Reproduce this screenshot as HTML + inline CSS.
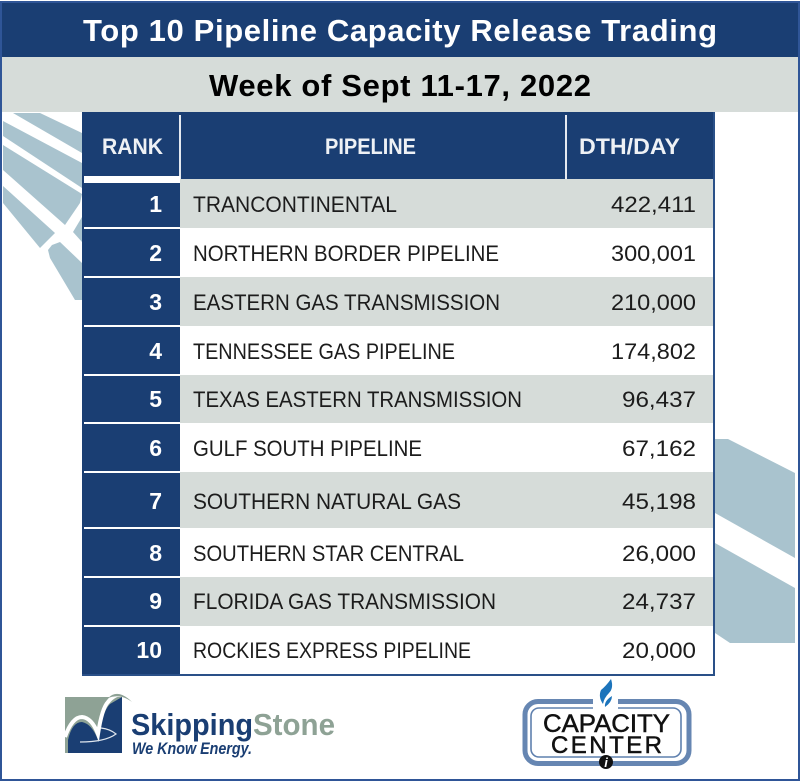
<!DOCTYPE html>
<html lang="en">
<head>
<meta charset="utf-8">
<title>Top 10 Pipeline Capacity Release Trading</title>
<style>
html,body{margin:0;padding:0;background:#fff;width:800px;height:784px;overflow:hidden}
svg{display:block}
text{font-family:"Liberation Sans",sans-serif}
.cell{font-size:22px;fill:#1c1c1c}
.rank{font-size:23px;font-weight:bold;fill:#fff}
.head{font-size:22px;font-weight:bold;fill:#eef1f5}
</style>
</head>
<body>
<svg width="800" height="784" viewBox="0 0 800 784" xmlns="http://www.w3.org/2000/svg">
<rect x="0" y="0" width="800" height="784" fill="#fff"/>

<g fill="#a9c3ce">
<polygon points="13,113 40,113 82,133 82,153"/>
<polygon points="3,121 82,163 82,188 3,136"/>
<polygon points="3,145 82,194 80,203 65,225 3,170"/>
<polygon points="3,186 55,233 40,248 3,203"/>
<polygon points="48,250 52,245 60,242 82,263 82,300 75,300 50,258"/>
<polygon points="73,232 82,217 82,242"/>
<polygon points="715,439 728,439 795,473 795,558 715,513"/>
<polygon points="715,543 795,588 795,643 730,643 715,633"/>
</g>

<rect x="2" y="3" width="796" height="54" fill="#1a3e73"/>
<text x="83" y="41" font-size="31" font-weight="bold" fill="#fff" textLength="634" lengthAdjust="spacing">Top 10 Pipeline Capacity Release Trading</text>
<rect x="2" y="57" width="796" height="55" fill="#d6dcd9"/>
<text x="209" y="96" font-size="31" font-weight="bold" fill="#000" textLength="382" lengthAdjust="spacing">Week of Sept 11-17, 2022</text>

<g>
<rect x="82" y="112" width="633" height="563" fill="#fff"/>
<rect x="82" y="112" width="633" height="67" fill="#1a3e73"/>
<rect x="179" y="115" width="2" height="64" fill="#e4e9f0"/>
<rect x="565" y="115" width="2" height="64" fill="#e4e9f0"/>
<text class="head" x="102" y="154" textLength="61" lengthAdjust="spacingAndGlyphs">RANK</text>
<text class="head" x="325" y="154" textLength="91" lengthAdjust="spacingAndGlyphs">PIPELINE</text>
<text class="head" x="579" y="154" textLength="101" lengthAdjust="spacingAndGlyphs">DTH/DAY</text>

<g>
<rect x="180" y="179" width="533" height="49" fill="#d6dcd9"/>
<rect x="84" y="176" width="96" height="7" fill="#fff"/>
<rect x="82" y="183" width="98" height="44" fill="#1a3e73"/>
<text class="rank" x="162" y="212" text-anchor="end">1</text>
<text class="cell" x="193" y="212" textLength="204" lengthAdjust="spacingAndGlyphs">TRANCONTINENTAL</text>
<text class="cell" x="611" y="212" textLength="85" lengthAdjust="spacingAndGlyphs">422,411</text>
</g>
<g>
<rect x="82" y="229" width="98" height="47" fill="#1a3e73"/>
<text class="rank" x="162" y="261" text-anchor="end">2</text>
<text class="cell" x="193" y="261" textLength="306" lengthAdjust="spacingAndGlyphs">NORTHERN BORDER PIPELINE</text>
<text class="cell" x="611" y="261" textLength="85" lengthAdjust="spacingAndGlyphs">300,001</text>
</g>
<g>
<rect x="180" y="277" width="533" height="49" fill="#d6dcd9"/>
<rect x="82" y="278" width="98" height="47" fill="#1a3e73"/>
<text class="rank" x="162" y="310" text-anchor="end">3</text>
<text class="cell" x="193" y="310" textLength="307" lengthAdjust="spacingAndGlyphs">EASTERN GAS TRANSMISSION</text>
<text class="cell" x="611" y="310" textLength="85" lengthAdjust="spacingAndGlyphs">210,000</text>
</g>
<g>
<rect x="82" y="327" width="98" height="47" fill="#1a3e73"/>
<text class="rank" x="162" y="359" text-anchor="end">4</text>
<text class="cell" x="193" y="359" textLength="262" lengthAdjust="spacingAndGlyphs">TENNESSEE GAS PIPELINE</text>
<text class="cell" x="611" y="359" textLength="85" lengthAdjust="spacingAndGlyphs">174,802</text>
</g>
<g>
<rect x="180" y="375" width="533" height="48" fill="#d6dcd9"/>
<rect x="82" y="376" width="98" height="46" fill="#1a3e73"/>
<text class="rank" x="162" y="407" text-anchor="end">5</text>
<text class="cell" x="193" y="407" textLength="329" lengthAdjust="spacingAndGlyphs">TEXAS EASTERN TRANSMISSION</text>
<text class="cell" x="622" y="407" textLength="74" lengthAdjust="spacingAndGlyphs">96,437</text>
</g>
<g>
<rect x="82" y="424" width="98" height="47" fill="#1a3e73"/>
<text class="rank" x="162" y="456" text-anchor="end">6</text>
<text class="cell" x="193" y="456" textLength="229" lengthAdjust="spacingAndGlyphs">GULF SOUTH PIPELINE</text>
<text class="cell" x="622" y="456" textLength="74" lengthAdjust="spacingAndGlyphs">67,162</text>
</g>
<g>
<rect x="180" y="472" width="533" height="56" fill="#d6dcd9"/>
<rect x="82" y="473" width="98" height="54" fill="#1a3e73"/>
<text class="rank" x="162" y="509" text-anchor="end">7</text>
<text class="cell" x="193" y="509" textLength="268" lengthAdjust="spacingAndGlyphs">SOUTHERN NATURAL GAS</text>
<text class="cell" x="622" y="509" textLength="74" lengthAdjust="spacingAndGlyphs">45,198</text>
</g>
<g>
<rect x="82" y="529" width="98" height="47" fill="#1a3e73"/>
<text class="rank" x="162" y="561" text-anchor="end">8</text>
<text class="cell" x="193" y="561" textLength="271" lengthAdjust="spacingAndGlyphs">SOUTHERN STAR CENTRAL</text>
<text class="cell" x="622" y="561" textLength="74" lengthAdjust="spacingAndGlyphs">26,000</text>
</g>
<g>
<rect x="180" y="577" width="533" height="49" fill="#d6dcd9"/>
<rect x="82" y="578" width="98" height="47" fill="#1a3e73"/>
<text class="rank" x="162" y="609" text-anchor="end">9</text>
<text class="cell" x="193" y="609" textLength="303" lengthAdjust="spacingAndGlyphs">FLORIDA GAS TRANSMISSION</text>
<text class="cell" x="622" y="609" textLength="74" lengthAdjust="spacingAndGlyphs">24,737</text>
</g>
<g>
<rect x="82" y="627" width="98" height="48" fill="#1a3e73"/>
<text class="rank" x="162" y="658" text-anchor="end">10</text>
<text class="cell" x="193" y="658" textLength="278" lengthAdjust="spacingAndGlyphs">ROCKIES EXPRESS PIPELINE</text>
<text class="cell" x="622" y="658" textLength="74" lengthAdjust="spacingAndGlyphs">20,000</text>
</g>
<rect x="82" y="112" width="2" height="563" fill="#1a3e73"/>
<rect x="713" y="112" width="2" height="563" fill="#2a5088"/>
<rect x="82" y="674" width="633" height="2" fill="#2a5088"/>
</g>

<g>
<rect x="65" y="697" width="57" height="56" fill="#8ea295"/>
<path d="M68 753 L68 740 Q72 722 82 722 Q92 724 98 740 Q102 712 110 704 L122 697 L122 753 Z" fill="#1a3e73"/>
<path d="M65 737 Q72 717 82 717 Q92 718 98 734 Q102 708 108 702 Q114 694 125 693" fill="none" stroke="#fff" stroke-width="4"/>
<path d="M108 698 Q118 688 132 702 Q120 693 108 698 Z" fill="#8ea295"/>
<path d="M80 742 Q105 742 116 734 Q110 729 101 728" fill="none" stroke="#dfe6ee" stroke-width="1.2"/>
<text x="131" y="735" font-size="31" font-weight="bold" fill="#1a3e73" textLength="122" lengthAdjust="spacingAndGlyphs">Skipping</text>
<text x="253" y="735" font-size="31" fill="#8ea295" font-weight="bold" textLength="82" lengthAdjust="spacingAndGlyphs">Stone</text>
<text x="132" y="754" font-size="17" font-weight="bold" font-style="italic" fill="#1a3e73" textLength="120" lengthAdjust="spacingAndGlyphs">We Know Energy.</text>
</g>

<g>
<rect x="525" y="701.5" width="164" height="62" rx="13" fill="none" stroke="#6686b2" stroke-width="5"/>
<rect x="531" y="708" width="150" height="49" rx="8" fill="none" stroke="#5f80ae" stroke-width="1.6"/>
<rect x="593" y="696" width="25" height="14" fill="#fff"/>
<path d="M611 679 Q614 688 609 693 Q604 698 603 704 Q598 697 601 690 Q606 686 611 679 Z M612 696 Q612 702 605 707 Q604 701 612 696 Z" fill="#1c74bb"/>
<text x="543" y="732" font-size="25" fill="#111" stroke="#111" stroke-width="0.5" textLength="127" lengthAdjust="spacingAndGlyphs">CAPACITY</text>
<text x="551" y="753" font-size="24" fill="#111" stroke="#111" stroke-width="0.5" textLength="111" lengthAdjust="spacing">CENTER</text>
<circle cx="606" cy="762" r="7" fill="#111"/>
<text x="606" y="767" font-size="13" font-weight="bold" font-style="italic" fill="#fff" text-anchor="middle" font-family="Liberation Serif">i</text>
</g>

<rect x="1" y="2" width="798" height="778" fill="none" stroke="#2f5597" stroke-width="2"/>
</svg>
</body>
</html>
